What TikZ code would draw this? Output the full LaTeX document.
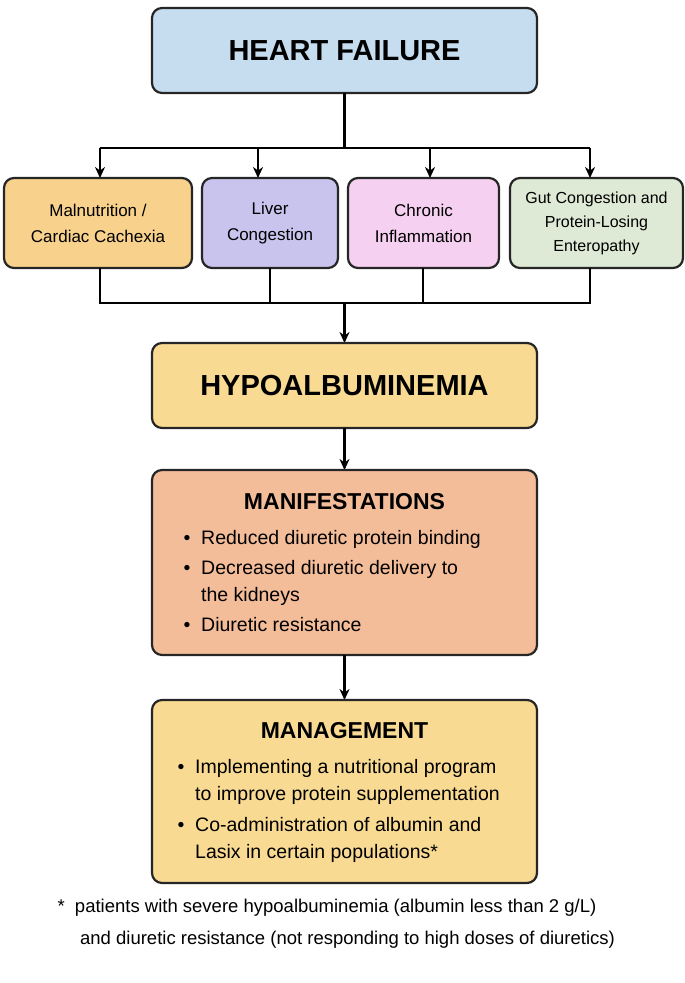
\documentclass[tikz,border=0pt]{standalone}
\usepackage{fontspec}
\setmainfont{Liberation Sans}
\usetikzlibrary{arrows.meta}
\definecolor{cblue}{HTML}{C6DDF0}
\definecolor{corange}{HTML}{F8D18C}
\definecolor{clav}{HTML}{C9C4EE}
\definecolor{cpink}{HTML}{F5D0F0}
\definecolor{cgreen}{HTML}{DEE9D6}
\definecolor{cyel}{HTML}{F8DA92}
\definecolor{csalmon}{HTML}{F4BD99}
\tikzset{
  bx/.style={draw=black!85, line width=2.2pt, rounded corners=10pt, inner sep=0pt},
  arr/.style={line width=2.2pt, -{Stealth[length=11pt,width=10pt]}},
  ln/.style={line width=2.2pt},
  small/.style={font=\fontsize{17}{26}\selectfont, align=center},
}
\begin{document}
\begin{tikzpicture}[x=1pt,y=-1pt]
\useasboundingbox (0,0) rectangle (685,983);
% Heart failure
\draw[bx, fill=cblue] (152,8) rectangle (537,93);
\node (hf) at (344.5,51) {\fontsize{29}{32}\selectfont\bfseries HEART FAILURE};
% row boxes
\draw[bx, fill=corange] (4,178) rectangle (192,268);
\node[small] (b1) at (98,223) {Malnutrition /\\Cardiac Cachexia};
\draw[bx, fill=clav] (202,178) rectangle (338,268);
\node[small] (b2) at (270,223) {Liver\\Congestion};
\draw[bx, fill=cpink] (348,178) rectangle (499,268);
\node[small] (b3) at (423.5,223) {Chronic\\Inflammation};
\draw[bx, fill=cgreen] (510,178) rectangle (683,268);
\node[font=\fontsize{16}{24}\selectfont, align=center] (b4) at (596.5,223) {Gut Congestion and\\Protein-Losing\\Enteropathy};
% connectors top
\coordinate (t0) at (344.5,93);
\coordinate (t1) at (344.5,148);
\draw[ln] (t0) -- (t1);
\draw[ln] (100,148) -- (590,148);
\draw[arr] (100,148) -- (100,178);
\draw[arr] (258,148) -- (258,178);
\draw[arr] (430,148) -- (430,178);
\draw[arr] (590,148) -- (590,178);
% connectors bottom
\draw[ln] (100,268) -- (100,303) -- (590,303) -- (590,268);
\draw[ln] (270,268) -- (270,303);
\draw[ln] (423,268) -- (423,303);
\draw[arr] (344.5,303) -- (344.5,343);
% hypo
\draw[bx, fill=cyel] (152,343) rectangle (537,428);
\node (hy) at (344.5,386) {\fontsize{29}{32}\selectfont\bfseries HYPOALBUMINEMIA};
\draw[arr] (344.5,428) -- (344.5,470);
% manifestations
\draw[bx, fill=csalmon] (152,470) rectangle (537,655);
\node (mh) at (344.5,502) {\fontsize{23}{26}\selectfont\bfseries MANIFESTATIONS};
\node[anchor=north west, align=left, font=\fontsize{19.5}{27}\selectfont] (ml) at (180,527)
 {\textbullet\ \ Reduced diuretic protein binding\\[3pt]
  \textbullet\ \ Decreased diuretic delivery to\\
  \phantom{\textbullet\ \ }the kidneys\\[3pt]
  \textbullet\ \ Diuretic resistance};
\draw[arr] (344.5,655) -- (344.5,700);
% management
\draw[bx, fill=cyel] (152,700) rectangle (537,883);
\node (gh) at (344.5,731) {\fontsize{23}{26}\selectfont\bfseries MANAGEMENT};
\node[anchor=north west, align=left, font=\fontsize{19.5}{27}\selectfont] (gl) at (174,756)
 {\textbullet\ \ Implementing a nutritional program\\
  \phantom{\textbullet\ \ }to improve protein supplementation\\[4pt]
  \textbullet\ \ Co-administration of albumin and\\
  \phantom{\textbullet\ \ }Lasix in certain populations*};
% footnote
\node[anchor=north west, align=left, font=\fontsize{18.5}{32}\selectfont] (fn) at (54,896)
 {*\ \ patients with severe hypoalbuminemia (albumin less than 2 g/L)\\
  \phantom{*}\ \ \ and diuretic resistance (not responding to high doses of diuretics)};
\end{tikzpicture}
\end{document}
